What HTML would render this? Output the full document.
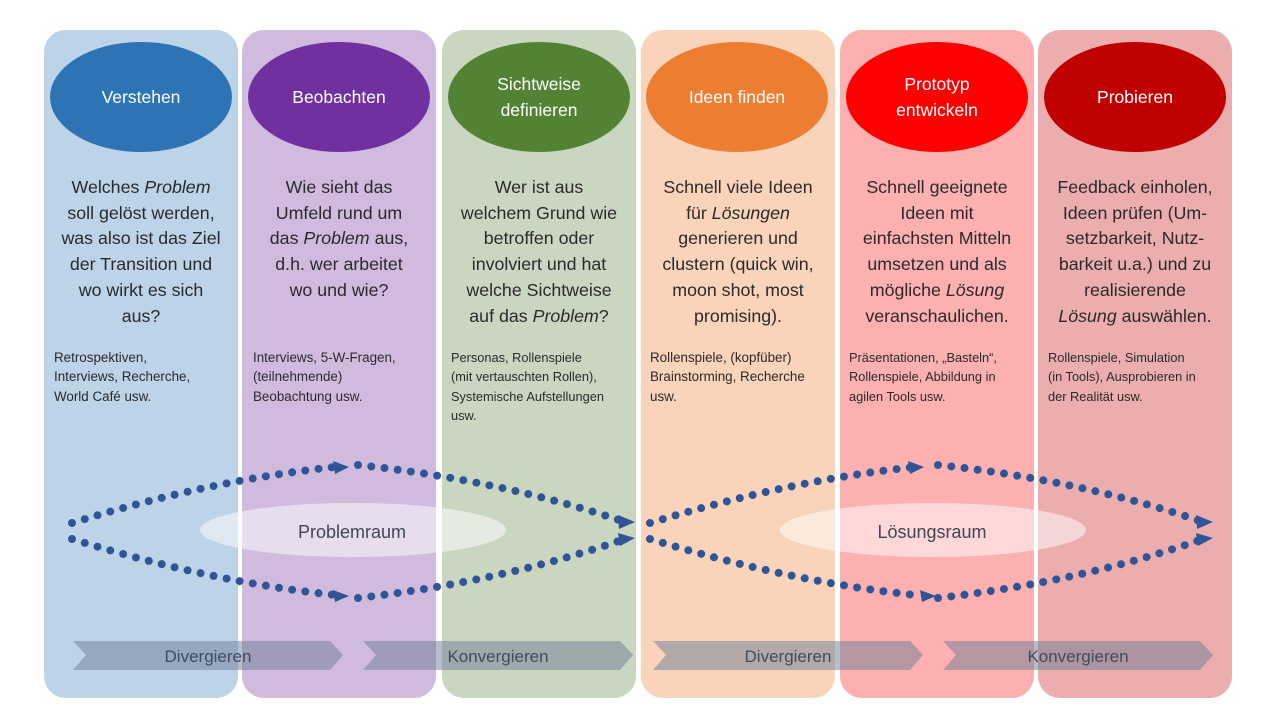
<!DOCTYPE html>
<html><head><meta charset="utf-8"><style>
body{margin:0;width:1280px;height:720px;background:#fff;position:relative;overflow:hidden;font-family:"Liberation Sans",sans-serif;}
.col{position:absolute;top:30px;height:668px;width:194px;border-radius:22px;}
.ell{position:absolute;top:42px;width:182px;height:110px;border-radius:50%;color:#fff;font-size:17.5px;display:flex;align-items:center;justify-content:center;text-align:center;line-height:26px;}
.main{position:absolute;top:175px;width:194px;text-align:center;font-size:17.8px;line-height:25.7px;color:#2a2a2a;white-space:nowrap}
.small{position:absolute;top:348px;width:190px;font-size:13.4px;line-height:19.3px;color:#2a2a2a;white-space:nowrap}
i{font-style:italic}
</style></head><body>
<div class="col" style="left:44px;background:#bcd3e8"></div>
<div class="col" style="left:242px;background:#d0bbdf"></div>
<div class="col" style="left:442px;background:#cad7c0"></div>
<div class="col" style="left:641px;background:#f9d4bb"></div>
<div class="col" style="left:840px;background:#fcb0b0"></div>
<div class="col" style="left:1038px;background:#ebadad"></div>

<div class="ell" style="left:50px;background:#2e74b5">Verstehen</div>
<div class="ell" style="left:248px;background:#7030a0">Beobachten</div>
<div class="ell" style="left:448px;background:#548235">Sichtweise<br>definieren</div>
<div class="ell" style="left:646px;background:#ed7d31">Ideen finden</div>
<div class="ell" style="left:846px;background:#ff0000">Prototyp<br>entwickeln</div>
<div class="ell" style="left:1044px;background:#c00000">Probieren</div>

<div class="main" style="left:44px">Welches <i>Problem</i><br>soll gelöst werden,<br>was also ist das Ziel<br>der Transition und<br>wo wirkt es sich<br>aus?</div>
<div class="main" style="left:242px">Wie sieht das<br>Umfeld rund um<br>das <i>Problem</i> aus,<br>d.h. wer arbeitet<br>wo und wie?</div>
<div class="main" style="left:442px">Wer ist aus<br>welchem Grund wie<br>betroffen oder<br>involviert und hat<br>welche Sichtweise<br>auf das <i>Problem</i>?</div>
<div class="main" style="left:641px">Schnell viele Ideen<br>für <i>Lösungen</i><br>generieren und<br>clustern (quick win,<br>moon shot, most<br>promising).</div>
<div class="main" style="left:840px">Schnell geeignete<br>Ideen mit<br>einfachsten Mitteln<br>umsetzen und als<br>mögliche <i>Lösung</i><br>veranschaulichen.</div>
<div class="main" style="left:1038px">Feedback einholen,<br>Ideen prüfen (Um-<br>setzbarkeit, Nutz-<br>barkeit u.a.) und zu<br>realisierende<br><i>Lösung</i> auswählen.</div>

<div class="small" style="left:54px">Retrospektiven,<br>Interviews, Recherche,<br>World Café usw.</div>
<div class="small" style="left:253px">Interviews, 5-W-Fragen,<br>(teilnehmende)<br>Beobachtung usw.</div>
<div class="small" style="left:451px;font-size:12.8px">Personas, Rollenspiele<br>(mit vertauschten Rollen),<br>Systemische Aufstellungen<br>usw.</div>
<div class="small" style="left:650px">Rollenspiele, (kopfüber)<br>Brainstorming, Recherche<br>usw.</div>
<div class="small" style="left:849px;font-size:12.8px">Präsentationen, „Basteln“,<br>Rollenspiele, Abbildung in<br>agilen Tools usw.</div>
<div class="small" style="left:1048px;font-size:12.8px">Rollenspiele, Simulation<br>(in Tools), Ausprobieren in<br>der Realität usw.</div>

<svg width="1280" height="720" style="position:absolute;left:0;top:0">
<g fill="rgba(255,255,255,0.5)">
<ellipse cx="353" cy="530" rx="153" ry="27"/>
<ellipse cx="933" cy="530" rx="153" ry="27"/>
</g>
<g font-family="Liberation Sans,sans-serif" font-size="18" fill="#404656" text-anchor="middle">
<text x="352" y="538">Problemraum</text>
<text x="932" y="538">Lösungsraum</text>
</g>
<g fill="rgba(110,125,150,0.5)">
<polygon points="73,641 330,641 343,655 330,670 73,670 86,655"/>
<polygon points="363,641 620,641 633,655 620,670 363,670 376,655"/>
<polygon points="653,641 910,641 923,655 910,670 653,670 666,655"/>
<polygon points="943,641 1200,641 1213,655 1200,670 943,670 956,655"/>
</g>
<g font-family="Liberation Sans,sans-serif" font-size="17" fill="#404a60" text-anchor="middle">
<text x="208" y="662">Divergieren</text>
<text x="498" y="662">Konvergieren</text>
<text x="788" y="662">Divergieren</text>
<text x="1078" y="662">Konvergieren</text>
</g>
<g fill="none" stroke="#2f5597" stroke-width="8" stroke-linecap="round" stroke-dasharray="0 13.3">
<path d="M72 523 Q210 480 335 467"/>
<path d="M358 465 Q500 480 622 521"/>
<path d="M72 539 Q210 582 335 595"/>
<path d="M358 598 Q500 582 622 540"/>
<path d="M650 523 Q790 480 915 467"/>
<path d="M938 465 Q1080 480 1200 521"/>
<path d="M650 539 Q790 582 915 595"/>
<path d="M938 598 Q1080 582 1200 540"/>
</g>
<g fill="#2f5597">
<polygon points="333,461 349,467 335,474"/>
<polygon points="618,515 635,522 619,529"/>
<polygon points="333,590 349,596 335,602"/>
<polygon points="618,533 635,538 620,546"/>
<polygon points="908,461 924,467 910,474"/>
<polygon points="1196,515 1213,522 1197,529"/>
<polygon points="920,590 936,596 922,602"/>
<polygon points="1196,533 1213,538 1198,546"/>
</g>
</svg>
</body></html>
